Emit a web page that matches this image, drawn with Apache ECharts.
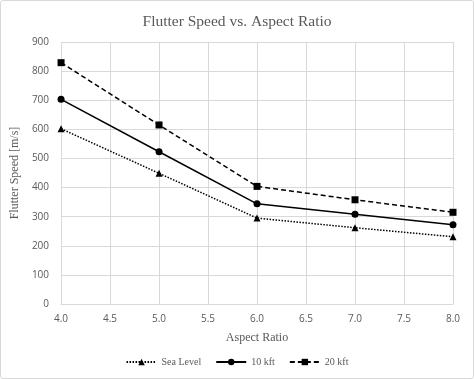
<!DOCTYPE html>
<html><head><meta charset="utf-8">
<script src="https://cdn.jsdelivr.net/npm/echarts@6/dist/echarts.min.js"></script>
<style>html,body{margin:0;padding:0;background:#fff}#c{width:474px;height:379px;box-sizing:border-box;border:1px solid #d9d9d9;border-radius:3px}</style>
</head><body><div id="c"></div>
<script>
const aspectRatio = [4.0, 5.0, 6.0, 7.0, 8.0];
const seaLevel = [602, 449, 295, 262, 231];
const kft10 = [703, 523, 344, 308, 272];
const kft20 = [829, 615, 404, 358, 315];
const seriesNames = ['Sea Level', '10 kft', '20 kft'];

const serif = '"Liberation Serif", "DejaVu Serif", serif';
const sans = '"Open Sans", "Liberation Sans", sans-serif';
const chart = echarts.init(document.getElementById('c'));
function mk(name, vals, type, symbol, size) {
  return {
    name: name, type: 'line',
    data: aspectRatio.map((x, i) => [x, vals[i]]),
    symbol: symbol, symbolSize: size,
    lineStyle: { color: '#000', width: 1.5, type: type },
    itemStyle: { color: '#000' },
    animation: false
  };
}
chart.setOption({
  animation: false,
  title: { text: 'Flutter Speed vs. Aspect Ratio', left: 'center', top: 8,
    textStyle: { fontFamily: serif, fontSize: 15.5, fontWeight: 'normal', color: '#595959' } },
  grid: { left: 55, right: 20, top: 41, bottom: 74 },
  xAxis: { type: 'value', min: 4, max: 8, interval: 0.5,
    name: 'Aspect Ratio', nameLocation: 'middle', nameGap: 28,
    nameTextStyle: { fontFamily: serif, fontSize: 12, color: '#595959' },
    axisLine: { lineStyle: { color: '#d9d9d9' } }, axisTick: { show: false },
    axisLabel: { formatter: v => v.toFixed(1), fontFamily: sans, fontSize: 10, color: '#595959', margin: 10 },
    splitLine: { show: true, lineStyle: { color: '#d9d9d9' } } },
  yAxis: { type: 'value', min: 0, max: 900, interval: 100,
    name: 'Flutter Speed [m/s]', nameLocation: 'middle', nameGap: 32,
    nameTextStyle: { fontFamily: serif, fontSize: 12, color: '#595959' },
    axisLine: { show: false }, axisTick: { show: false },
    axisLabel: { fontFamily: sans, fontSize: 10, color: '#595959', margin: 12 },
    splitLine: { show: true, lineStyle: { color: '#d9d9d9' } } },
  legend: { bottom: 6, left: 'center', itemWidth: 30, itemHeight: 8, itemGap: 14,
    textStyle: { fontFamily: serif, fontSize: 10, color: '#595959' },
    data: seriesNames },
  series: [
    mk(seriesNames[0], seaLevel, [1.5, 1.5], 'triangle', 7),
    mk(seriesNames[1], kft10, 'solid', 'circle', 7),
    mk(seriesNames[2], kft20, [5, 3], 'rect', 7)
  ]
});
</script></body></html>
